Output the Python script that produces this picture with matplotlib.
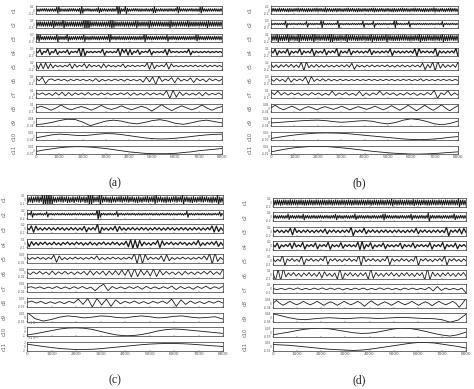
import numpy as np
import matplotlib
matplotlib.use("Agg")
import matplotlib.pyplot as plt
from matplotlib.ticker import FuncFormatter

# ---------------- data (values in 1e-3 units unless noted) ----------------
x_ticks = [0, 1000, 2000, 3000, 4000, 5000, 6000, 7000, 8000]
imf_names = ["c1", "c2", "c3", "c4", "c5", "c6", "c7", "c8", "c9", "c10", "c11"]
captions = ["(a)", "(b)", "(c)", "(d)"]

a_c1 = [60,-70,55,-80,65,-60,70,-55,75,-65,80,-70,60,-75,65,-60,70,-80,60,-65,
        150,-170,180,-90,70,-60,55,-75,65,-70,60,-80,75,-60,70,-65,80,-60,65,-75,
        60,-70,90,-200,190,-160,70,-65,70,-55,80,-60,65,-75,55,-70,60,-65,75,-80,
        130,-150,85,-90,70,-60,75,-65,60,-80,70,-60,65,-75,80,-70,60,-65,230,-210,
        200,-190,80,-70,60,-75,190,-200,90,-70,60,-70,65,-55,75,-65,80,-60,70,-75,
        65,-80,70,-60,55,-70,80,-65,60,-75,70,-60,85,-150,160,-140,70,-60,55,-70,
        80,-65,60,-75,70,-60,65,-80,70,-60,75,-65,60,-70,80,-60,170,-160,140,-70,
        60,-65,75,-60,70,-80,65,-55,70,-60,80,-70,60,-65,75,-70,60,-80,150,-160,
        160,-75,65,-70,60,-80,70,-65,75,-70,60,-65,80,-70,65,-75,60,-70,75,-65]
a_c2 = [250,-300,280,-260,320,-290,270,-310,300,-280,260,-300,310,-290,280,-320,450,-500,380,-300,
        290,-270,310,-280,300,-290,600,-550,350,-320,280,-300,260,-290,310,-280,300,-330,290,-310,
        280,-300,270,-310,320,-290,560,-620,650,-600,620,-580,400,-320,290,-280,300,-260,310,-290,
        280,-300,270,-310,300,-290,280,-310,290,-300,350,-400,550,-600,500,-450,330,-300,290,-280,
        260,-300,310,-270,300,-320,290,-280,300,-310,270,-290,280,-300,310,-290,420,-480,380,-300,
        270,-290,300,-280,310,-300,290,-280,320,-500,450,-320,290,-300,280,-270,300,-290,310,-280,
        300,-290,270,-310,290,-300,280,-320,330,-520,480,-350,300,-290,280,-310,300,-270,290,-300,
        320,-280,300,-290,280,-300,450,-400,310,-290,280,-300,290,-310,300,-280,270,-300,310,-290,
        300,-280,290,-300,320,-500,420,-300,280,-290,310,-300,290,-280,300,-310,280,-290,300,-280]
a_c3 = [120,-140,300,-280,260,-130,120,-140,130,-150,140,-120,130,-140,150,-130,120,-140,130,-150,
        280,-300,150,-130,140,-120,130,-140,150,-120,300,-260,130,-150,120,-140,130,-120,140,-150,
        130,-120,140,-130,150,-140,250,-280,140,-130,120,-150,130,-140,150,-120,140,-130,120,-140,
        130,-150,140,-120,130,-140,150,-130,120,-140,300,-320,290,-140,130,-120,140,-150,130,-120,
        150,-140,120,-130,140,-150,130,-140,120,-130,150,-140,130,-120,140,-150,130,-140,120,-130,
        150,-140,130,-120,280,-300,260,-140,130,-120,140,-150,130,-140,120,-130,150,-140,130,-120,
        140,-130,150,-120,130,-140,250,-270,130,-120,140,-130,150,-120,130,-140,120,-150,140,-130,
        130,-120,140,-150,130,-140,120,-130,150,-140,130,-120,140,-150,260,-240,220,-150,140,-120,
        130,-140,120,-150,140,-130,150,-120,130,-140,120,-130,150,-140,130,-120,140,-150,130,-140]
a_c4 = [40,-50,200,-220,60,-40,250,-230,50,-60,220,-200,45,-55,60,-50,180,-200,50,-40,60,-55,300,-380,420,-300,60,-50,45,-60,50,-40,55,-50,240,-260,60,-45,50,-60,40,-50,280,-300,250,-60,220,-240,200,-220,60,-50,180,-200,50,-40,60,-55,210,-230,50,-60,45,-50,40,-60,200,-250,230,-60,50,-40,55,-60,50,-45,60,-50,220,-240,60,-50,45,-55,40,-60,50,-45,55,-60,40,-50,60,-45,50,-55]
a_c5 = [150,-160,140,-150,170,-140,120,-100,50,-40,30,-50,40,-30,120,-140,100,-60,40,-30,130,-120,90,-50,40,-30,50,-110,120,-80,60,-40,30,-50,40,-30,110,-90,40,-30,50,-40,30,-20,40,-30,160,-180,200,-150,40,-30,50,-40,150,-170,120,-40,30,-40,30,-50,40,-30,40,-30,50,-40,30,-40,60,-50,40,-30,50,-40,30,-40]
a_c6 = [100,-50,150,-200,20,60,-40,50,-30,40,-60,30,-40,50,-30,40,-50,30,-60,80,-90,40,-50,30,-40,50,-30,40,-60,50,-40,30,-50,40,-120,150,-100,160,-250,200,-80,50,-40,130,-150,120,-60,40,-50,110,-140,90,-40,50,-100,80,-40,50,-60,40]
a_c7 = [20,-10,30,-30,20,-40,40,-30,50,-50,40,-40,30,-20,30,-30,40,-30,20,-30,30,-20,30,-30,20,-20,30,-20,40,-40,30,-30,20,-30,40,-30,30,-20,20,-30,90,-120,100,-80,60,-40,30,-30,20,-30,40,-50,40,-30,20,-20,30,-30]
a_c8 = [0,50,0,-60,0,80,0,-50,0,40,0,-60,0,70,0,-40,0,60,0,-50,0,50,0,-80,0,90,0,-70,0,60,0,-50,0,80,0,-60,0,40]
a_c9 = [-30,-20,-5,15,30,28,0,-40,-15,10,20,10,-10,-20,-5,15,25,10,-15,-25,-10,10,20,5,-10]
a_c10 = [-10,-2,6,10,8,4,2,5,10,13,12,8,2,-4,-10,-14,-16,-15,-12,-8,-3,2,6,9,10]
a_c11 = [-4,0,3,6,8,9,9,8,6,4,1,-2,-5,-7,-9,-10,-10,-10,-9,-7,-5,-2,0,2,4]

b_c1 = [70,-80,90,-70,80,-90,70,-80,100,-90,80,-70,90,-80,70,-90,80,-100,90,-80,
        70,-90,80,-70,90,-80,100,-90,80,-70,90,-80,70,-90,80,-100,90,-80,70,-90,
        80,-70,90,-80,100,-90,80,-70,90,-80,70,-90,120,-110,80,-70,90,-80,70,-90,
        80,-70,90,-100,80,-70,90,-80,70,-90,80,-70,90,-80,100,-90,80,-70,90,-80,
        70,-90,80,-100,90,-80,70,-90,80,-70,90,-80,70,-90,80,-70,90,-80,100,-110,
        90,-80,70,-90,80,-70,90,-80,70,-90,80,-70,90,-80,70,-90,80,-100,90,-80,
        70,-90,80,-70,90,-80,100,-90,80,-70,90,-80,70,-90,80,-70,90,-80,100,-90,
        80,-70,90,-80,70,-90,80,-100,90,-80,70,-90,80,-70,90,-80,120,-110,90,-80,
        70,-90,80,-70,90,-80,70,-90,80,-70,90,-80,100,-90,80,-70,90,-80,70,-90]
b_c2 = [50,-60,40,-50,60,-40,50,-60,40,-50,60,-40,50,-60,250,-300,60,-50,40,-60,
        50,-40,60,-50,40,-60,50,-40,60,-50,40,-60,50,-40,200,-250,50,-40,60,-50,
        40,-60,50,-40,60,-50,40,-60,280,-320,220,-50,40,-60,50,-40,60,-50,40,-60,
        50,-40,60,-50,300,-350,60,-40,50,-60,40,-50,60,-40,50,-60,40,-50,60,-40,
        50,-60,40,-50,60,-40,50,-60,230,-260,60,-40,50,-60,40,-50,60,-40,220,-280,
        40,-50,60,-40,50,-60,40,-50,60,-40,50,-60,40,-50,60,-40,50,-60,260,-300,
        240,-60,50,-40,60,-50,40,-60,50,-40,60,-50,210,-250,50,-40,60,-50,40,-60,
        50,-40,60,-50,40,-60,50,-40,60,-50,40,-60,50,-40,60,-50,40,-60,50,-40,
        60,-50,40,-60,200,-220,50,-40,60,-50,40,-60,50,-40,60,-50,40,-60,50,-40]
b_c3 = [120,-140,130,-120,140,-130,200,-230,140,-130,120,-150,130,-140,150,-120,210,-220,140,-130,
        150,-120,130,-140,120,-150,200,-220,210,-140,130,-120,150,-140,130,-150,140,-120,130,-140,
        220,-240,200,-130,140,-120,150,-140,130,-120,140,-130,150,-140,130,-120,210,-230,220,-200,
        140,-130,120,-150,130,-140,150,-120,140,-130,120,-140,220,-230,150,-120,140,-130,150,-120,
        130,-140,120,-150,140,-130,120,-140,150,-120,130,-140,120,-150,140,-130,210,-220,130,-120,
        140,-150,130,-140,120,-130,150,-140,130,-120,200,-230,150,-120,140,-130,120,-150,130,-140,
        120,-130,150,-140,130,-120,140,-130,150,-120,130,-140,120,-150,140,-130,120,-140,150,-120,
        130,-140,210,-220,140,-130,120,-150,130,-140,150,-120,140,-130,120,-140,150,-130,140,-120,
        130,-150,140,-120,200,-210,130,-140,120,-150,140,-130,150,-120,130,-140,120,-130,140,-130]
b_c4 = [60,-50,150,-170,60,-50,40,-60,160,-180,50,-60,40,-50,170,-150,60,-50,40,-60,180,-200,60,-50,40,-60,150,-160,50,-40,60,-50,200,-260,60,-50,40,-60,170,-160,50,-40,60,-50,40,-60,50,-40,160,-150,60,-50,40,-60,50,-40,60,-50,170,-190,60,-40,50,-60,40,-50,60,-40,50,-60,180,-220,200,-60,50,-40,60,-50,40,-60,220,-250,60,-50,40,-60,50,-40,60,-50,200,-240]
b_c5 = [100,-80,60,-90,70,-50,80,-60,90,-70,60,-80,200,-250,230,-100,60,-70,80,-60,50,-70,60,-50,40,-60,50,-40,60,-50,70,-60,150,-180,60,-50,40,-60,50,-40,60,-50,40,-30,50,-40,60,-50,40,-60,50,-40,60,-50,40,-50,60,-40,50,-60,150,-200,80,-100,220,-260,250,-120,100,-80,60,-50,80,-70,200]
b_c6 = [80,-100,120,-90,60,-150,200,-180,100,-60,80,-70,250,-300,280,-120,90,-80,100,-90,80,-70,60,-80,70,-60,50,-60,40,-50,60,-50,40,-50,60,-40,50,-60,40,-50,60,-40,50,-60,40,-50,60,-40,50,-60,40,-50,100,-80,60,-50,40,-60,50,-40,60,-50,40,-60,50,-40]
b_c7 = [60,-20,80,-30,40,-30,30,-20,30,-40,20,-30,40,-20,30,-40,20,-30,80,-40,30,-20,40,-30,20,-40,70,-50,30,-40,30,-20,80,-30,40,-20,30,-40,20,-30,40,-20,30,-40,20,-30,40,-20,100,-120,30,-20,90,-40,30,-30]
b_c8 = [0,30,0,-20,0,20,0,-25,0,15,0,-20,0,15,0,-15,0,20,0,-20,0,15,0,-15,0,20,0,-20,0,25,0,-25,0,30,0,-30,0,30,0,-25,0,35,0,-30,0,25]
b_c9 = [-10,-5,2,8,14,18,20,15,5,-3,2,10,15,8,-10,-20,-5,20,35,25,5,-20,-30,-15,10]
b_c10 = [-20,-10,0,8,15,20,24,25,24,22,18,12,6,0,-6,-12,-18,-24,-28,-30,-28,-24,-18,-10,-5]
b_c11 = [-10,-2,6,12,16,19,20,19,16,12,8,3,-2,-7,-11,-15,-18,-20,-22,-22,-21,-19,-16,-13,-10]

c_c1 = [60,-70,50,-60,70,-80,60,-50,70,-60,80,-70,60,-50,120,-130,110,-140,130,-120,
        140,-130,120,-110,70,-60,50,-70,60,-50,70,-60,80,-70,60,-50,70,-80,60,-70,
        50,-60,70,-80,60,-50,70,-60,80,-70,60,-50,70,-80,60,-70,120,-130,140,-120,
        110,-70,60,-50,70,-60,110,-130,120,-70,60,-50,70,-60,50,-70,60,-80,70,-60,
        50,-70,60,-50,70,-60,80,-70,60,-50,70,-60,80,-70,60,-50,70,-60,50,-70,
        60,-80,70,-60,50,-70,60,-50,70,-60,80,-70,60,-50,70,-60,80,-110,120,-70,
        60,-50,70,-60,50,-70,60,-80,70,-60,50,-70,60,-50,70,-60,80,-70,60,-50,
        70,-60,110,-120,60,-50,70,-60,50,-70,60,-80,70,-60,50,-70,60,-50,70,-60,
        80,-70,60,-50,70,-60,50,-70,60,-80,70,-60,50,-70,120,-130,60,-70,50,-60]
c_c2 = [40,-30,50,-40,150,-160,50,-40,30,-50,40,-30,50,-40,30,-50,40,-30,120,-140,
        40,-30,50,-40,30,-50,40,-30,50,-40,30,-40,50,-30,40,-50,30,-40,50,-40,
        30,-50,40,-30,50,-40,30,-40,50,-30,40,-50,30,-40,50,-40,30,-50,40,-30,
        50,-40,30,-40,250,-280,200,-150,40,-30,50,-40,30,-50,40,-30,50,-40,30,-50,
        40,-30,140,-120,40,-30,50,-40,30,-50,40,-30,50,-40,30,-40,50,-30,40,-50,
        30,-40,50,-40,30,-50,40,-30,50,-40,30,-40,50,-30,40,-50,30,-40,50,-40,
        30,-50,40,-30,50,-40,30,-40,50,-30,40,-50,30,-40,50,-40,30,-50,40,-30,
        50,-40,30,-50,40,-30,150,-160,40,-30,50,-40,30,-50,40,-30,50,-40,30,-40,
        50,-30,40,-50,30,-40,50,-40,30,-50,40,-30,50,-40,30,-40,120,-100,40,-30]
c_c3 = [60,-50,150,-170,140,-60,50,-70,60,-50,70,-60,50,-60,70,-50,60,-70,50,-60,70,-50,60,-70,50,-60,130,-150,60,-50,70,-60,250,-280,80,-60,50,-70,60,-50,140,-130,120,-60,50,-70,60,-50,70,-60,50,-60,70,-50,60,-70,50,-60,70,-50,60,-70,50,-60,70,-50,60,-70,50,-60,70,-50,60,-70,50,-60,70,-50,60,-70,50,-60,70,-50,150,-160,140,-130,60,-70]
c_c4 = [60,-80,50,-40,30,-40,30,-20,40,-30,20,-30,40,-30,20,-40,30,-20,40,-30,20,-30,40,-20,30,-40,20,-30,40,-30,20,-40,30,-20,40,-30,20,-30,40,-20,30,-40,20,-30,60,-80,100,-120,90,-110,80,-60,40,-30,20,-40,30,-20,80,-100,70,-40,30,-20,40,-30,20,-30,40,-20,30,-40,20,-30,40,-30,80,-60,20,-40,30,-20,40,-30,60,-70,30,-40]
c_c5 = [10,-15,10,-10,15,-10,10,-15,10,-10,40,-50,30,-20,10,-15,10,-10,15,-10,10,-15,10,-10,15,-10,30,-20,10,-15,10,-10,15,-10,10,-15,10,-10,15,-10,60,-70,75,-70,50,-20,15,-10,10,-15,30,-40,45,-30,10,-15,10,-10,15,-10,10,-15,10,-10,15,-10,30,-20,60,-75,70,-40,10,-15]
c_c6 = [5,-8,6,-5,8,-6,5,-8,10,-8,6,-5,8,-6,5,-8,6,-5,8,-10,12,-10,8,-6,10,-12,10,-8,12,-10,15,-12,18,-20,22,-18,15,-10,12,-15,20,-18,15,-10,8,-6,5,-8,6,-10,8,-6,5,-8,6,-5,8,-6,10,-8,6,-8,20]
c_c7 = [0,5,-3,4,-5,3,-4,6,-5,4,-6,5,-4,6,-5,3,-15,5,18,-15,6,-5,4,-6,5,-4,6,-8,7,-5,4,-6,5,-4,8,-10,6,-5,4,-8,6,-4,8,-6,5,-4,6]
c_c8 = [0,10,-5,8,-10,5,-8,6,-10,8,-5,25,-15,30,-35,30,-20,25,-30,20,-10,8,-6,10,-8,6,-10,8,-6,10,-8,25,-30,20,-15,10,-8,6,-10,8,-6,10,-5]
c_c9 = [12,-4,-10,-6,0,3,1,-2,0,3,2,-1,-2,1,3,1,-2,-1,2,3,0,-2,-1,1,-5]
c_c10 = [-800,-500,-100,300,700,950,1000,900,600,100,-400,-800,-1000,-950,-700,-300,200,550,700,600,400,200,0,-200,-400]   # 1e-6 units
c_c11 = [1200,600,0,-500,-1000,-1300,-1500,-1500,-1400,-1100,-700,-300,100,500,900,1200,1400,1500,1500,1400,1200,900,600,300,0]  # 1e-6 units

d_c1 = [120,-130,110,-120,130,-110,120,-140,110,-120,130,-110,120,-130,110,-120,140,-130,120,-110,
        130,-120,110,-130,120,-110,130,-120,110,-140,120,-130,110,-120,130,-110,120,-130,110,-120,
        130,-110,120,-130,110,-120,130,-110,120,-130,110,-120,130,-110,120,-140,110,-120,130,-110,
        120,-130,110,-120,130,-110,120,-130,110,-120,130,-110,120,-140,110,-120,130,-110,120,-130,
        110,-120,130,-110,120,-130,110,-120,130,-110,120,-140,110,-120,130,-110,120,-130,110,-120,
        130,-110,120,-130,110,-120,130,-110,120,-130,160,-170,130,-110,120,-130,110,-120,130,-110,
        120,-130,110,-120,130,-110,120,-130,110,-120,150,-160,120,-110,130,-120,110,-130,120,-110,
        130,-120,110,-140,120,-130,110,-120,130,-110,120,-130,110,-120,130,-110,120,-130,110,-120,
        130,-110,120,-130,110,-120,130,-110,120,-130,110,-120,200,-220,120,-110,130,-120,110,-130]
d_c2 = [70,-60,80,-70,60,-80,70,-60,80,-70,60,-80,70,-60,150,-130,70,-60,80,-70,
        60,-80,70,-60,80,-70,60,-80,140,-150,70,-60,80,-70,60,-80,70,-60,80,-70,
        60,-80,70,-60,80,-70,60,-80,70,-60,80,-70,60,-80,70,-60,80,-70,130,-140,
        70,-60,80,-70,60,-80,70,-60,80,-70,60,-80,70,-60,80,-70,150,-140,60,-80,
        70,-60,80,-70,60,-80,70,-60,80,-70,60,-80,70,-60,80,-70,60,-80,70,-60,
        80,-70,140,-160,150,-80,70,-60,80,-70,60,-80,70,-60,80,-70,60,-80,70,-60,
        80,-70,60,-80,70,-60,80,-70,140,-150,70,-60,80,-70,60,-80,70,-60,80,-70,
        60,-80,70,-60,200,-250,70,-60,80,-70,60,-80,70,-60,80,-70,60,-80,70,-60,
        80,-70,60,-80,70,-60,80,-70,150,-140,70,-80,60,-70,80,-60,70,-80,70,-60]
d_c3 = [60,-50,70,-60,50,-70,60,-50,150,-180,160,-60,50,-70,60,-50,70,-60,50,-70,60,-50,70,-60,120,-130,60,-50,70,-60,50,-70,60,-50,70,-60,200,-220,60,-50,70,-60,150,-130,60,-50,70,-60,50,-70,60,-50,70,-60,50,-70,60,-50,70,-60,50,-70,60,-50,70,-60,140,-120,60,-50,70,-60,50,-70,60,-50,70,-60,50,-70,200,-230,60,-50,70,-60,120,-130,140,-60]
d_c4 = [50,-60,130,-150,40,-50,60,-40,120,-140,150,-60,40,-50,160,-170,50,-40,60,-50,140,-160,50,-40,60,-50,170,-180,60,-50,40,-60,150,-130,50,-40,60,-50,40,-60,180,-200,210,-170,60,-50,150,-160,40,-60,50,-40,140,-150,60,-50,40,-60,50,-40,130,-150,60,-50,40,-60,140,-120,50,-40,60,-50,40,-60,150,-170,50,-40,60,-50,160,-180,60,-50,40,-60,130,-150,50,-40,60,-50]
d_c5 = [30,-40,20,-30,120,-140,30,-20,40,-30,20,-40,100,-120,30,-20,40,-30,20,-30,40,-20,130,-110,30,-20,40,-30,20,-40,30,-20,40,-30,20,-30,120,-140,110,-40,30,-20,40,-30,20,-40,30,-20,100,-120,40,-30,20,-30,40,-20,30,-40,20,-30,120,-140,30,-20,40,-30,20,-40,30,-20,40,-30,110,-130,30,-20,40,-30,20,-40,30,-20]
d_c6 = [40,-150,130,-160,150,-60,40,-30,50,-40,30,-50,40,-30,50,-40,30,-50,60,-80,70,-40,30,-50,40,-120,150,-130,40,-30,50,-40,30,-50,40,-30,50,-120,140,-100,50,-40,30,-50,40,-30,50,-40,30,-50,40,-30,50,-40,30,-50,40,-30,50,-140,150,-130,60,-40,30,-50,40,-30,50,-40,30,-50,40,-30,50,-40]
d_c7 = [10,-20,15,-20,20,-15,25,-20,15,-20,20,-15,25,-20,20,-15,20,-25,15,-20,20,-15,20,-25,15,-20,25,-15,20,-20,15,-25,20,-15,20,-20,15,-20,40,-50,60,-40,20,-20,15,-25,20,-100]
d_c8 = [0,30,0,-20,0,20,0,-15,0,20,0,-15,0,20,0,-20,0,15,0,-20,0,20,0,-15,0,20,0,-30,0,25,0,-20,0,15,0,-20,0,20,0,-15,0,20,0,-20,0,15,0,-25,0,20,0,-15,0,20,0,-40,0,50]
d_c9 = [40,20,0,-15,-20,-12,-5,0,-5,-10,-5,0,-3,-8,-5,0,3,0,-5,-8,-10,-20,-45,-25,35]
d_c10 = [-20,-10,0,12,22,28,30,25,15,5,-5,-10,-8,0,12,24,30,28,18,5,-10,-22,-30,-20,0]
d_c11 = [5,4,3,1,-1,-3,-5,-7,-8,-9,-10,-9,-7,-4,-1,2,5,8,10,10,9,6,3,0,-4]

# y tick values (1e-3 units; panel (c) c10/c11 shown in units of 1e-3 -> stored as 1e-6 ints)
a_ticks = [200, 500, 300, 300, 200, 200, 100, 100, 40, 20, 10]
b_ticks = [200, 300, 200, 200, 200, 300, 100, 40, 40, 30, 20]
c_ticks = [100, 200, 200, 100, 50, 20, 20, 30, 10, 1000, 2000]
d_ticks = [200, 200, 200, 200, 100, 100, 100, 40, 40, 30, 10]

# ---------------- figure ----------------
W, H = 474, 389
fig = plt.figure(figsize=(W / 100, H / 100), dpi=100)
fig.patch.set_facecolor("white")

panels = [
    dict(series=[a_c1, a_c2, a_c3, a_c4, a_c5, a_c6, a_c7, a_c8, a_c9, a_c10, a_c11],
         T=a_ticks, ratio=0.92,
         left=36, right=222, top=6, pitch=14.0, h=8, lab=19, cap=(115, 183)),
    dict(series=[b_c1, b_c2, b_c3, b_c4, b_c5, b_c6, b_c7, b_c8, b_c9, b_c10, b_c11],
         T=b_ticks, ratio=0.92,
         left=271, right=458, top=6, pitch=14.0, h=8, lab=18, cap=(359, 183)),
    dict(series=[c_c1, c_c2, c_c3, c_c4, c_c5, c_c6, c_c7, c_c8, c_c9, c_c10, c_c11],
         T=c_ticks, ratio=0.88,
         left=27, right=223, top=195, pitch=14.7, h=9, lab=20, cap=(115, 380)),
    dict(series=[d_c1, d_c2, d_c3, d_c4, d_c5, d_c6, d_c7, d_c8, d_c9, d_c10, d_c11],
         T=d_ticks, ratio=0.88,
         left=273, right=466, top=198, pitch=14.4, h=9, lab=25, cap=(359, 380)),
]

fmt = FuncFormatter(lambda v, p: "%g" % v)
txt_col = "#555555"

for pi, P in enumerate(panels):
    for i, vals in enumerate(P["series"]):
        t = P["top"] + P["pitch"] * i
        ax = fig.add_axes([P["left"] / W, 1 - (t + P["h"]) / H,
                           (P["right"] - P["left"]) / W, P["h"] / H])
        v = np.array(vals, dtype=float)
        xs = np.linspace(0, 8000, len(v))
        micro = (pi == 2 and i >= 9)
        y = v / 1000.0
        T = P["T"][i] / 1000.0
        Lm = T / P["ratio"]
        if len(v) > 150:
            lw = 0.75
        elif i < 4:
            lw = 0.9
        elif i == 4:
            lw = 0.65
        else:
            lw = 0.6
        ax.plot(xs, y, color="#1a1a1a", lw=lw)
        ax.set_xlim(0, 8000)
        ax.set_ylim(-Lm, Lm)
        ax.set_yticks([-T, 0, T])
        ax.yaxis.set_major_formatter(fmt)
        ax.set_xticks(x_ticks)
        ax.tick_params(axis="both", direction="in", length=1.0, width=0.3,
                       labelsize=2.1, pad=1, colors="#333333", labelcolor=txt_col)
        ax.tick_params(axis="x", labelsize=3.1)
        if i < 10:
            ax.tick_params(axis="x", labelbottom=False)
        for s in ax.spines.values():
            s.set_linewidth(0.5)
            s.set_color("#333333")
        ax.set_ylabel(imf_names[i], fontsize=3.6, color=txt_col, rotation=90)
        ax.yaxis.set_label_coords(-P["lab"] / (P["right"] - P["left"]), 0.5)
        if micro:
            ax.text(0.0, 1.04, r"$\times10^{-3}$", transform=ax.transAxes,
                    fontsize=2.5, color=txt_col, ha="left", va="bottom")
    cx, cy = P["cap"]
    fig.text(cx / W, 1 - cy / H, captions[pi], fontsize=8.5, ha="center",
             va="center", family="Liberation Serif", color="#222222")

fig.savefig("out.png", dpi=100, facecolor="white")
